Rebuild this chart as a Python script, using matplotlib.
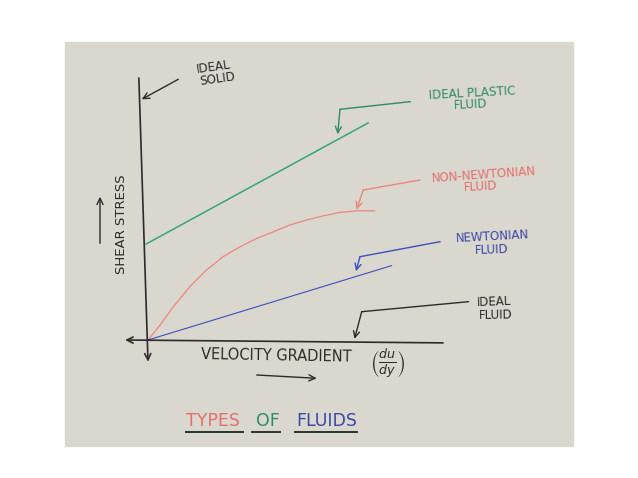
import matplotlib.pyplot as plt
from matplotlib.patches import Rectangle
import numpy as np

# velocity gradient (du/dy) vs shear stress
plastic_x = [-0.07, 7.47]
plastic_y = [3.66, 8.29]

non_newtonian_x = [0.0, 0.41, 0.86, 1.42, 1.98, 2.55, 3.12, 3.69, 4.25,
                   4.81, 5.38, 5.94, 6.51, 7.07, 7.69]
non_newtonian_y = [0.0, 0.57, 1.27, 2.04, 2.67, 3.18, 3.56, 3.88, 4.13,
                   4.39, 4.58, 4.74, 4.87, 4.93, 4.93]

newtonian_x = [0.0, 8.26]
newtonian_y = [0.0, 2.84]

# ideal fluid lies on the x axis, ideal solid on the y axis
ideal_fluid_x = [10.0, -0.78]
ideal_fluid_y = [-0.11, 0.0]
ideal_solid_x = [-0.31, 0.0]
ideal_solid_y = [10.0, -0.83]

# colours of the marker pens
INK = "#2b2b2b"
GREEN = "#35a57c"
RED = "#ec8580"
BLUE = "#3f4fbf"
GREEN_TXT = "#2e8c6a"
RED_TXT = "#e46f6c"
BLUE_TXT = "#3a48a8"
PAPER = "#d9d7ce"

# pixel position of the origin and pixels per unit on the page
X0, Y0 = 148, 340
SX, SY = 29.5, 26.2


def P(px, py):
    return ((px - X0) / SX, (Y0 - py) / SY)


fig = plt.figure(figsize=(6.38, 4.78), dpi=100)
fig.patch.set_facecolor("white")
ax = fig.add_axes([0, 0, 1, 1])
ax.set_xlim(P(0, 0)[0], P(638, 0)[0])
ax.set_ylim(P(0, 478)[1], P(0, 0)[1])
ax.axis("off")

# the sheet of paper
ax.add_patch(Rectangle((65 / 638, 1 - 446 / 478), 508 / 638, 404 / 478,
                       transform=fig.transFigure, color=PAPER, zorder=0))

arrow = "->,head_length=0.45,head_width=0.22"

# axes (ideal fluid / ideal solid)
ax.annotate("", xy=(ideal_fluid_x[1], ideal_fluid_y[1]),
            xytext=(ideal_fluid_x[0], ideal_fluid_y[0]),
            arrowprops=dict(arrowstyle=arrow, color=INK, lw=1.2,
                            shrinkA=0, shrinkB=0))
ax.annotate("", xy=(ideal_solid_x[1], ideal_solid_y[1]),
            xytext=(ideal_solid_x[0], ideal_solid_y[0]),
            arrowprops=dict(arrowstyle=arrow, color=INK, lw=1.2,
                            shrinkA=0, shrinkB=0))

# the fluid curves
ax.plot(plastic_x, plastic_y, color=GREEN, lw=1.1, solid_capstyle="round")
ax.plot(non_newtonian_x, non_newtonian_y, color=RED, lw=0.9,
        solid_capstyle="round", solid_joinstyle="round")
ax.plot(newtonian_x, newtonian_y, color=BLUE, lw=0.8, solid_capstyle="round")


def leader(start, corner, tip_x, curve_x, curve_y, lift, color):
    xs, ys = np.asarray(curve_x), np.asarray(curve_y)
    order = np.argsort(xs)
    tip = (tip_x, np.interp(tip_x, xs[order], ys[order]) + lift)
    s = P(*start)
    c = P(*corner)
    ax.plot([s[0], c[0]], [s[1], c[1]], color=color, lw=1.0)
    ax.annotate("", xy=tip, xytext=c,
                arrowprops=dict(arrowstyle=arrow, color=color, lw=1.0,
                                shrinkA=0, shrinkB=0))


leader((410, 101.7), (340, 109.3), 6.43, plastic_x, plastic_y, 0.2, GREEN_TXT)
leader((420, 180), (363.3, 190), 7.07, non_newtonian_x, non_newtonian_y,
       0.05, RED)
leader((440, 241.7), (360, 256.7), 7.05, newtonian_x, newtonian_y, 0.2, BLUE)
leader((468.3, 301.7), (361.7, 311.7), 7.0, ideal_fluid_x, ideal_fluid_y,
       0.12, INK)

# ideal solid pointer
ax.annotate("", xy=P(141.7, 99.3), xytext=P(178.3, 79.3),
            arrowprops=dict(arrowstyle=arrow, color=INK, lw=1.0,
                            shrinkA=0, shrinkB=0))

txt = dict(ha="center", va="center", fontsize=8.6)
ax.text(*P(213, 67), "IDEAL", color=INK, rotation=8, **txt)
ax.text(*P(217, 79), "SOLID", color=INK, rotation=8, **txt)
ax.text(*P(472, 93), "IDEAL PLASTIC", color=GREEN_TXT, rotation=3, **txt)
ax.text(*P(471, 105), "FLUID", color=GREEN_TXT, rotation=3, **txt)
ax.text(*P(484, 175), "NON-NEWTONIAN", color=RED_TXT, rotation=4, **txt)
ax.text(*P(481, 187), "FLUID", color=RED_TXT, rotation=3, **txt)
ax.text(*P(492, 237), "NEWTONIAN", color=BLUE_TXT, rotation=3, **txt)
ax.text(*P(492, 250), "FLUID", color=BLUE_TXT, rotation=2, **txt)
ax.text(*P(494, 302), "IDEAL", color=INK, rotation=2, **txt)
ax.text(*P(496, 315), "FLUID", color=INK, rotation=1, **txt)

# axis titles and direction arrows
ax.text(*P(121.7, 224), "SHEAR STRESS", color=INK, rotation=90,
        ha="center", va="center", fontsize=9.5)
ax.annotate("", xy=P(100, 196.7), xytext=P(100, 243.3),
            arrowprops=dict(arrowstyle=arrow, color=INK, lw=1.0,
                            shrinkA=0, shrinkB=0))
ax.text(*P(276, 356), "VELOCITY GRADIENT", color=INK, rotation=-1,
        ha="center", va="center", fontsize=10.5)
ax.text(*P(388, 364), r"$\left(\frac{du}{dy}\right)$", color=INK,
        ha="center", va="center", fontsize=13)
ax.annotate("", xy=P(316.7, 378.3), xytext=P(256.7, 375),
            arrowprops=dict(arrowstyle=arrow, color=INK, lw=1.0,
                            shrinkA=0, shrinkB=0))

# title with underlines
title = dict(ha="center", va="center", fontsize=12.5)
ax.text(*P(213, 421), "TYPES", color=RED_TXT, **title)
ax.text(*P(267.5, 421), "OF", color=GREEN_TXT, **title)
ax.text(*P(326.7, 421), "FLUIDS", color=BLUE_TXT, **title)
for a, b in [(186, 242.7), (251.7, 280), (295, 356.7)]:
    l, r = P(a, 432), P(b, 432)
    ax.plot([l[0], r[0]], [l[1], r[1]], color="#26362c", lw=1.4)

fig.savefig("out.png", dpi=100, facecolor=fig.get_facecolor())
